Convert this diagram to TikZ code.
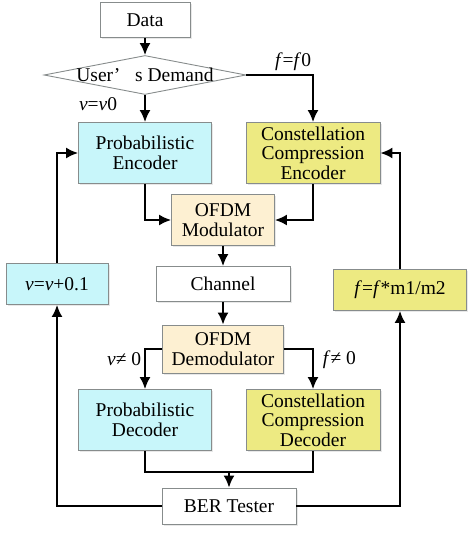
\documentclass[tikz,border=0pt]{standalone}
\usepackage{fontspec}
\setmainfont{Liberation Serif}
\usepackage{tikz}
\usetikzlibrary{arrows.meta,calc,positioning,shapes.geometric,shadows}
\definecolor{cyanfill}{RGB}{200,246,250}
\definecolor{yellowfill}{RGB}{237,234,130}
\definecolor{peachfill}{RGB}{253,240,210}
\definecolor{edgegray}{RGB}{135,140,140}

\begin{document}
\begin{tikzpicture}[x=1pt,y=-1pt,
		font=\fontsize{19.5}{19.5}\selectfont,
		blk/.style={draw=edgegray,line width=0.9pt,align=center,inner sep=2pt,fill=white,
			drop shadow={opacity=0.18,shadow xshift=1.5pt,shadow yshift=-1.5pt}},
		arr/.style={line width=1.8pt,-{Latex[length=12pt,width=11pt]}},
		ln/.style={line width=1.8pt},
		lbl/.style={inner sep=1pt}]
			\useasboundingbox (0,0) rectangle (474,535);
			\node[blk,minimum width=90,minimum height=35] (data) at (145,20) {Data};
			\node[draw=edgegray,line width=0.9pt,diamond,shape aspect=5.2,inner sep=0pt,inner xsep=-6pt,
				minimum width=202,minimum height=39] (demand) at (145,75) {User’\hspace{0.75em}s Demand};
			\node[blk,fill=cyanfill,minimum width=133,minimum height=61] (penc) at (145,153) {Probabilistic\\Encoder};
			\node[blk,fill=yellowfill,minimum width=134,minimum height=61] (cenc) at (313,153) {Constellation\\Compression\\Encoder};
			\node[blk,fill=peachfill,minimum width=103,minimum height=51] (mod) at (223,220) {OFDM\\Modulator};
			\node[blk,minimum width=134,minimum height=35] (chan) at (223,284) {Channel};
			\node[blk,fill=peachfill,minimum width=121,minimum height=48] (demod) at (223,349) {OFDM\\Demodulator};
			\node[blk,fill=cyanfill,minimum width=133,minimum height=61] (pdec) at (145,420) {Probabilistic\\Decoder};
			\node[blk,fill=yellowfill,minimum width=134,minimum height=61] (cdec) at (313,420) {Constellation\\Compression\\Decoder};
			\node[blk,minimum width=134,minimum height=36] (ber) at (229,506) {BER Tester};
			\node[blk,fill=cyanfill,minimum width=102,minimum height=41] (vinc) at (57,284) {\textit{v}=\textit{v}+0.1};
			\node[blk,fill=yellowfill,minimum width=133,minimum height=41] (fmul) at (400,290) {\textit{f}=\textit{f}*m1/m2};
			\coordinate (join) at (229,472);
			\draw[arr] (data) to (demand);
			\draw[arr] (demand.south) to node[lbl,pos=0.35,left=26pt] {\textit{v}=\textit{v}0} (penc.north);
			\draw[arr] (demand.east) -| node[lbl,pos=0.35,above=2pt] {\textit{f}=\textit{f}0} (cenc.north);
			\draw[arr] (penc.south) |- (mod.west);
			\draw[arr] (cenc.south) |- (mod.east);
			\draw[arr] (mod) to (chan);
			\draw[arr] (chan) to (demod);
			\draw[arr] (demod.west) -| node[lbl,pos=0.63,left=2pt] {\textit{v}≠ 0} (pdec.north);
			\draw[arr] (demod.east) -| node[lbl,pos=0.63,right=8pt] {\textit{f}≠ 0} (cdec.north);
			\draw[ln] (pdec.south) |- (join) -| (cdec.south);
			\draw[arr] (join) to (ber.north);
			\draw[arr] (ber.west) -| (vinc.south);
			\draw[arr] (vinc.north) |- (penc.west);
			\draw[arr] (ber.east) -| (fmul.south);
			\draw[arr] (fmul.north) |- (cenc.east);
\end{tikzpicture}
\end{document}
